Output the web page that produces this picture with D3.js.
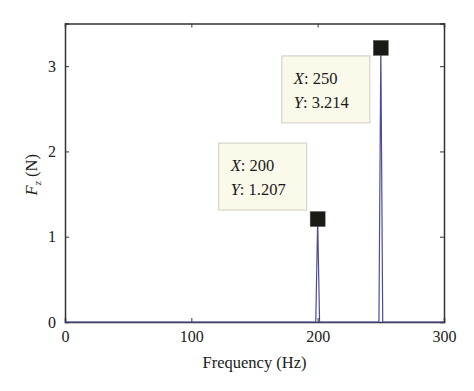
<!DOCTYPE html>
<html>
<head>
<meta charset="utf-8">
<script src="https://cdn.jsdelivr.net/npm/d3@7"></script>
<style>
  body { margin: 0; background: #fff; }
  svg text { font-family: "Liberation Serif", "DejaVu Serif", serif; fill: #1a1a1a; }
</style>
</head>
<body>
<div id="chart"></div>
<script>
// spectrum samples (Hz, N)
const freq = [0, 198.5, 200, 201.5, 248.5, 250, 251.5, 300];
const force = [0, 0, 1.207, 0, 0, 3.214, 0, 0];

// data tips
const tipX = [200, 250];
const tipY = [1.207, 3.214];

const xTicks = [0, 100, 200, 300];
const yTicks = [0, 1, 2, 3];

const width = 474, height = 391;
const margin = { top: 23.5, right: 30, bottom: 69, left: 65 };

const svg = d3.select("#chart").append("svg")
    .attr("width", width)
    .attr("height", height);

const x = d3.scaleLinear().domain([0, 300]).range([margin.left, width - margin.right]);
const y = d3.scaleLinear().domain([0, 3.5]).range([height - margin.bottom, margin.top]);

const axisColor = "#333";

// axes (ticks inside, mirrored on top/right)
const gx = svg.append("g")
    .attr("transform", `translate(0,${y(0)})`)
    .call(d3.axisBottom(x).tickValues(xTicks).tickSize(-4).tickPadding(9).tickFormat(d3.format("d")));
const gxTop = svg.append("g")
    .attr("transform", `translate(0,${y(3.5)})`)
    .call(d3.axisTop(x).tickValues(xTicks).tickSize(-4).tickFormat(""));
const gy = svg.append("g")
    .attr("transform", `translate(${x(0)},0)`)
    .call(d3.axisLeft(y).tickValues(yTicks).tickSize(-4).tickPadding(9).tickFormat(d3.format("d")));
const gyRight = svg.append("g")
    .attr("transform", `translate(${x(300)},0)`)
    .call(d3.axisRight(y).tickValues(yTicks).tickSize(-4).tickFormat(""));

[gx, gxTop, gy, gyRight].forEach(g => {
    g.select(".domain").attr("stroke", axisColor).attr("stroke-width", 1.5);
    g.selectAll(".tick line").attr("stroke", axisColor);
    g.selectAll(".tick text").attr("font-size", 16).attr("fill", "#1a1a1a")
        .attr("font-family", "Liberation Serif, serif");
});

// spectrum line
const line = d3.line()
    .x((d, i) => x(freq[i]))
    .y(d => y(d));

svg.append("path")
    .datum(force)
    .attr("fill", "none")
    .attr("stroke", "#4b4b9e")
    .attr("stroke-width", 1.2)
    .attr("d", line);

// data tip markers
const mk = 15;
svg.selectAll("rect.marker")
    .data(tipX)
    .enter().append("rect")
    .attr("class", "marker")
    .attr("x", d => x(d) - mk / 2)
    .attr("y", (d, i) => y(tipY[i]) - mk / 2)
    .attr("width", mk)
    .attr("height", mk)
    .attr("fill", "#1b1a17")
    .attr("stroke", "#555")
    .attr("stroke-width", 0.5);

// data tip boxes
const boxW = 88, boxH = 67;
const boxOffset = [[-99, -76], [-99, 8]];
const tips = svg.selectAll("g.tip")
    .data(tipX)
    .enter().append("g")
    .attr("class", "tip")
    .attr("transform", (d, i) => `translate(${x(d) + boxOffset[i][0]},${y(tipY[i]) + boxOffset[i][1]})`);

tips.append("rect")
    .attr("width", boxW)
    .attr("height", boxH)
    .attr("fill", "#fbf9ea")
    .attr("stroke", "#cfcdc2")
    .attr("stroke-width", 1);

const tx = tips.append("text").attr("x", 12).attr("y", 28).attr("font-size", 16.5);
tx.append("tspan").attr("font-style", "italic").text("X");
tx.append("tspan").text((d) => ": " + d);

const ty = tips.append("text").attr("x", 12).attr("y", 52).attr("font-size", 16.5);
ty.append("tspan").attr("font-style", "italic").text("Y");
ty.append("tspan").text((d, i) => ": " + tipY[i]);

// axis titles
svg.append("text")
    .attr("x", (x(0) + x(300)) / 2)
    .attr("y", 368)
    .attr("text-anchor", "middle")
    .attr("font-size", 16.5)
    .text("Frequency (Hz)");

const yl = svg.append("text")
    .attr("transform", `translate(37,${(y(0) + y(3.5)) / 2 + 2}) rotate(-90)`)
    .attr("text-anchor", "middle")
    .attr("font-size", 16.5);
yl.append("tspan").attr("font-style", "italic").text("F");
yl.append("tspan").attr("font-style", "italic").attr("font-size", 11).attr("dy", 4).text("z");
yl.append("tspan").attr("dy", -4).text(" (N)");
</script>
</body>
</html>
